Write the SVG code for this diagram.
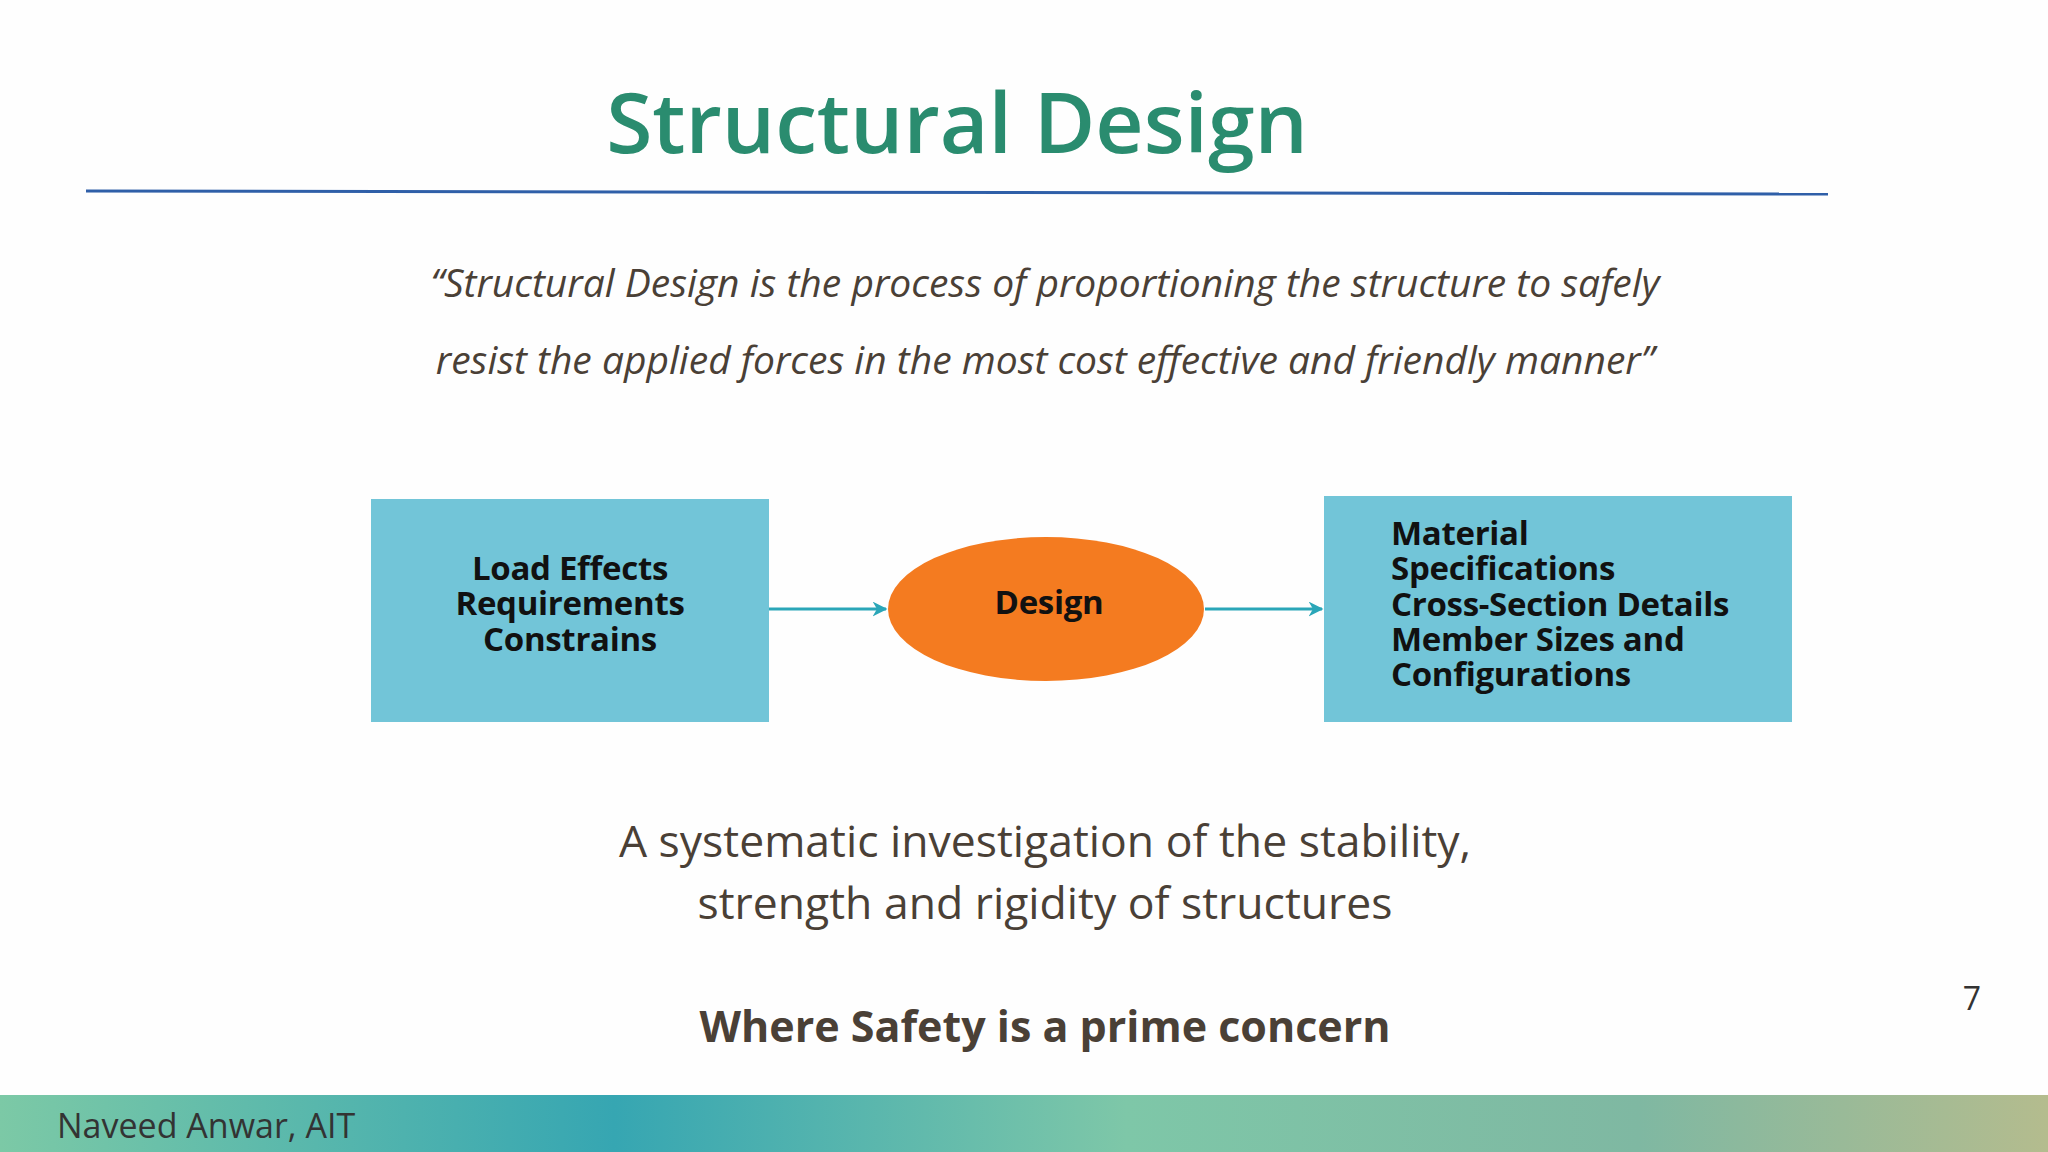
<svg xmlns="http://www.w3.org/2000/svg" width="2048" height="1152" viewBox="0 0 2048 1152">
<defs>
<linearGradient id="bar" x1="0" y1="0" x2="1" y2="0">
<stop offset="0" stop-color="#7cc9a6"/><stop offset="0.3" stop-color="#36a6b2"/><stop offset="0.55" stop-color="#7ec7a8"/><stop offset="0.8" stop-color="#7fb8a2"/><stop offset="1" stop-color="#b4bc8e"/>
</linearGradient>
<marker id="ah" viewBox="0 0 10 10" refX="9" refY="5" markerWidth="5" markerHeight="5" orient="auto"><path d="M0,0 L10,5 L0,10 L3,5 z" fill="#2aa6b8"/></marker>
<style>
.box{fill:#72c5d8}
.bt{font-family:"Open Sans","Liberation Sans",sans-serif;font-weight:bold;font-size:33px;fill:#111;letter-spacing:-0.3px}
.body{font-family:"Open Sans","Liberation Sans",sans-serif;fill:#4a4036}
</style>
</defs>
<rect width="2048" height="1152" fill="#fefefe"/>
<text x="957" y="153" text-anchor="middle" font-family="'Open Sans','Liberation Sans',sans-serif" font-weight="600" font-size="84" fill="#2a8c6f">Structural Design</text>
<line x1="86" y1="191" x2="1828" y2="194" stroke="#2f5fa8" stroke-width="3"/>
<g class="body" font-style="italic" font-size="39" fill="#404040" text-anchor="middle">
<text x="1045" y="297">“Structural Design is the process of proportioning the structure to safely</text>
<text x="1045" y="374">resist the applied forces in the most cost effective  and friendly manner”</text>
</g>
<g id="connectors" stroke="#2aa6b8" stroke-width="3" marker-end="url(#ah)">
<line x1="769" y1="609" x2="886" y2="609"/>
<line x1="1205" y1="609" x2="1322" y2="609"/>
</g>
<g id="inputs"><rect class="box" x="371" y="499" width="398" height="223"/>
<text class="bt" text-anchor="middle"><tspan x="570" y="580">Load Effects</tspan><tspan x="570" y="615">Requirements</tspan><tspan x="570" y="651">Constrains</tspan></text></g>
<g id="design"><ellipse cx="1046" cy="609" rx="158" ry="72" fill="#f47b20"/>
<text class="bt" x="1049" y="614" text-anchor="middle">Design</text></g>
<g id="outputs"><rect class="box" x="1324" y="496" width="468" height="226"/>
<text class="bt" font-size="34"><tspan x="1391" y="545">Material</tspan><tspan x="1391" y="580">Specifications</tspan><tspan x="1391" y="616">Cross-Section Details</tspan><tspan x="1391" y="651">Member Sizes and</tspan><tspan x="1391" y="686">Configurations</tspan></text></g>
<g class="body" font-size="44.5" text-anchor="middle">
<text x="1045" y="857">A systematic investigation of the stability,</text>
<text x="1045" y="919">strength and rigidity of structures</text>
<text x="1045" y="1042" font-weight="bold" font-size="43">Where Safety is a prime concern</text>
</g>
<text x="1972" y="1010" text-anchor="middle" font-family="'Open Sans',sans-serif" font-size="32" fill="#333">7</text>
<rect x="0" y="1095" width="2048" height="57" fill="url(#bar)"/>
<text x="57" y="1138" font-family="'Open Sans',sans-serif" font-size="34" fill="#333">Naveed Anwar, AIT</text>
</svg>
